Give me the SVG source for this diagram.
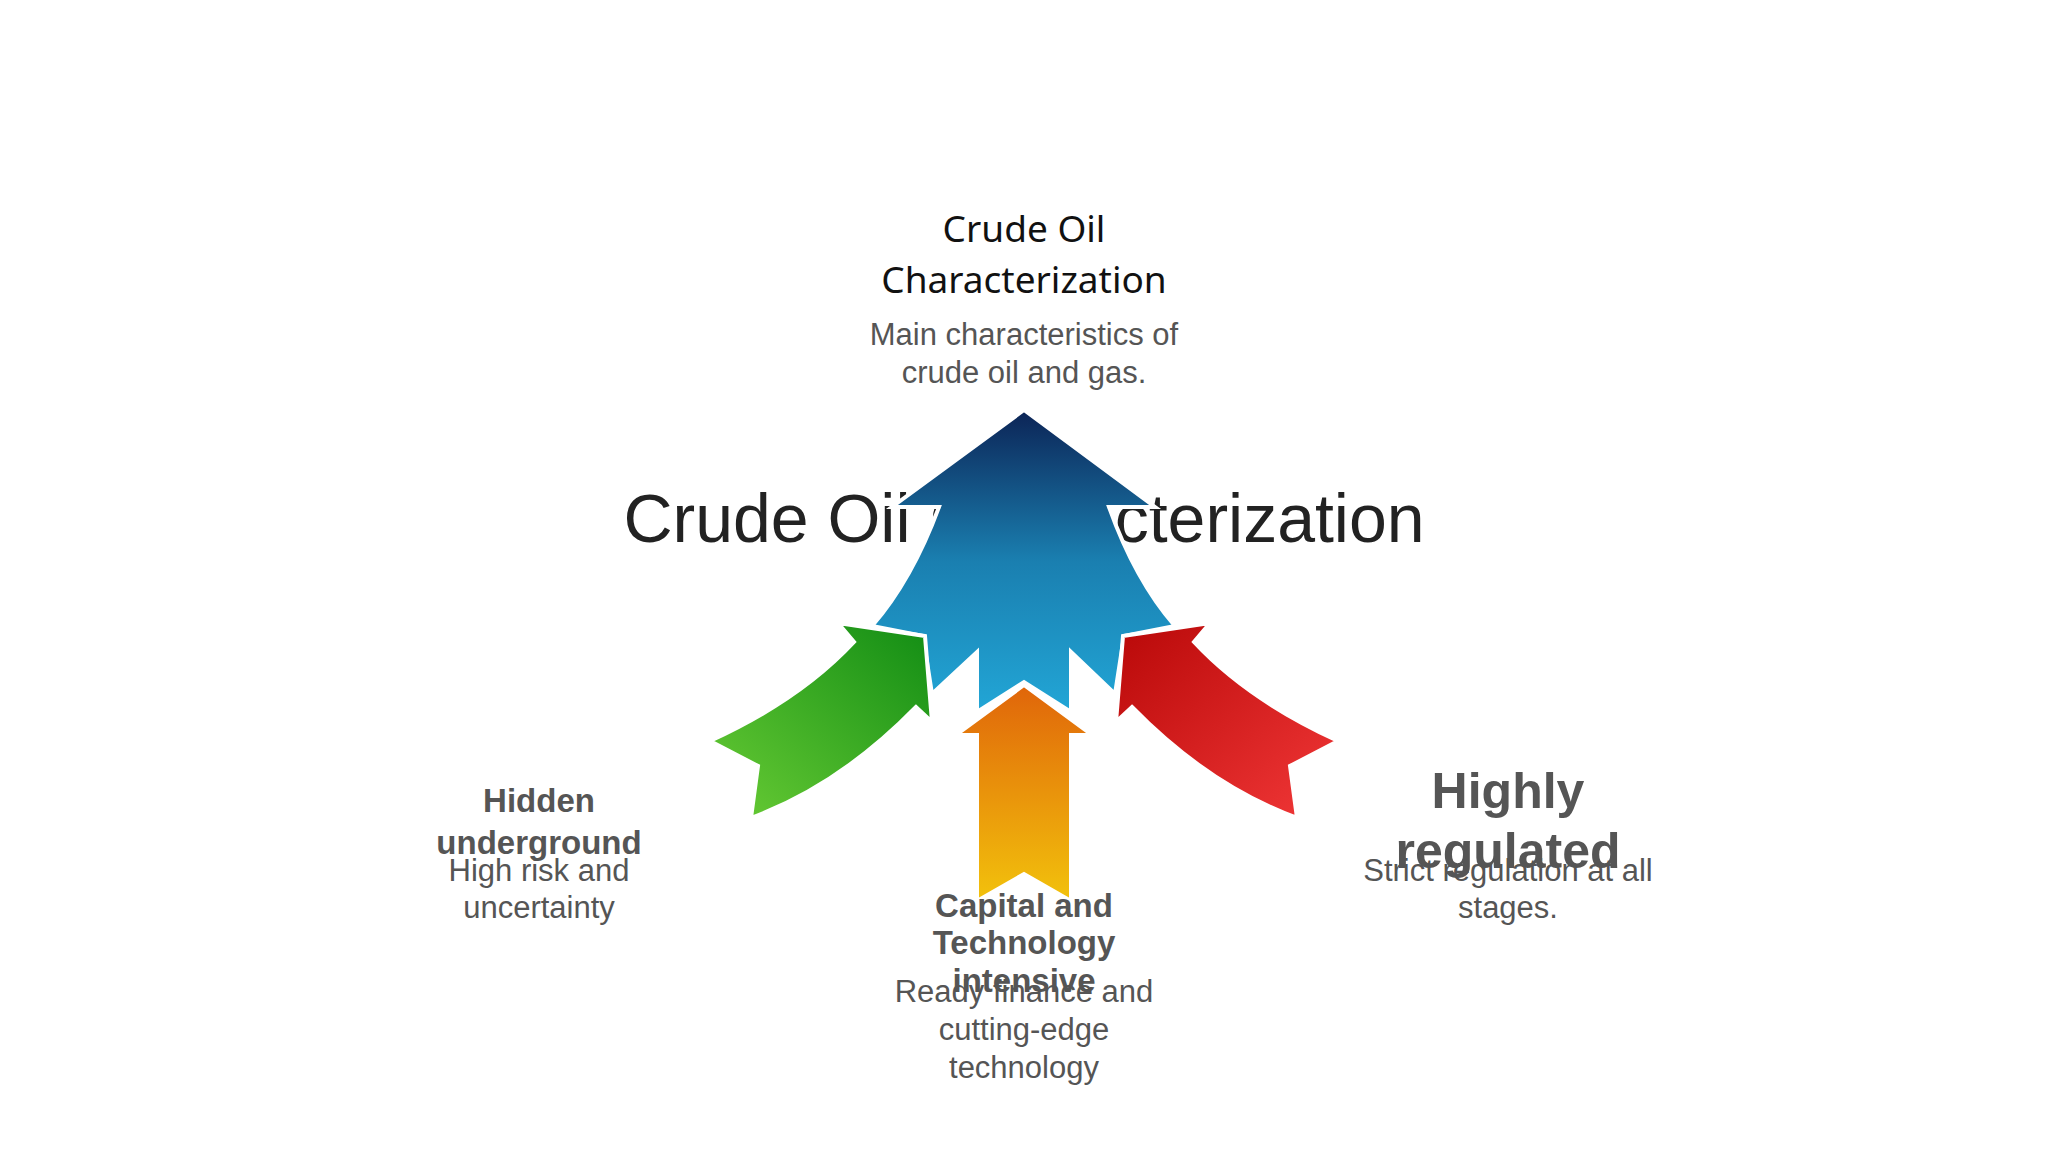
<svg xmlns="http://www.w3.org/2000/svg" width="2048" height="1152" viewBox="0 0 2048 1152">
<defs>
<linearGradient id="gb" x1="0" y1="0" x2="0" y2="1"><stop offset="0" stop-color="#0c2456"/><stop offset="0.5" stop-color="#1a7fb0"/><stop offset="1" stop-color="#22a6d6"/></linearGradient>
<linearGradient id="go" x1="0" y1="0" x2="0" y2="1"><stop offset="0" stop-color="#e0650a"/><stop offset="1" stop-color="#f2c20c"/></linearGradient>
<linearGradient id="gg" x1="0" y1="1" x2="1" y2="0"><stop offset="0" stop-color="#6acd35"/><stop offset="1" stop-color="#118c14"/></linearGradient>
<linearGradient id="gr" x1="1" y1="1" x2="0" y2="0"><stop offset="0" stop-color="#f23838"/><stop offset="1" stop-color="#b80808"/></linearGradient>
</defs>
<style>
.t{font-family:"Noto Sans","Open Sans",sans-serif;font-size:37px;fill:#111;text-anchor:middle}
.d{font-family:"Liberation Sans",Arial,sans-serif;font-size:31px;fill:#555;text-anchor:middle}
.h{font-family:"Liberation Sans",Arial,sans-serif;font-size:33px;font-weight:bold;fill:#555;text-anchor:middle}
.hb{font-size:50px}
.a{stroke:#fff;stroke-width:4;stroke-linejoin:miter}
</style>
<text x="1024" y="542" font-family="Liberation Sans,Arial,sans-serif" font-size="68" fill="#222" text-anchor="middle">Crude Oil Characterization</text>
<g id="top">
<path class="a" fill="url(#gb)" d="M1024,410 L1155,507 L1109,507 Q1135,580 1175,626 L1124,636 L1115,694 L1071,652 L1071,712 L1024,682 L977,712 L977,652 L932,694 L923,636 L872,626 Q912,580 939,507 L892,507 Z"/>
<text class="t" x="1024" y="242">Crude Oil</text>
<text class="t" x="1024" y="293">Characterization</text>
<text class="d" x="1024" y="345">Main characteristics of</text>
<text class="d" x="1024" y="383">crude oil and gas.</text>
</g>
<g id="connectors"></g>
<g id="capital">
<path class="a" fill="url(#go)" d="M1024,685 L1092,735 L1071,735 L1071,901 L1024,874 L977,901 L977,735 L956,735 Z"/>
<text class="h" x="1024" y="917">Capital and</text>
<text class="h" x="1024" y="954">Technology</text>
<text class="h" x="1024" y="992">intensive</text>
<text class="d" x="1024" y="1002">Ready finance and</text>
<text class="d" x="1024" y="1040">cutting-edge</text>
<text class="d" x="1024" y="1078">technology</text>
</g>
<g id="hidden">
<path class="a" fill="url(#gg)" d="M838,623 L925,636 L932,722 L916,707 Q840,785 751,818 L758,766 L710,741 Q800,700 854,642 Z"/>
<text class="h" x="539" y="812">Hidden</text>
<text class="h" x="539" y="854">underground</text>
<text class="d" x="539" y="881">High risk and</text>
<text class="d" x="539" y="918">uncertainty</text>
</g>
<g id="regulated">
<path class="a" fill="url(#gr)" d="M1210,623 L1123,636 L1116,722 L1132,707 Q1208,785 1297,818 L1290,766 L1338,741 Q1248,700 1194,642 Z"/>
<text class="h hb" x="1508" y="808">Highly</text>
<text class="h hb" x="1508" y="868">regulated</text>
<text class="d" x="1508" y="881">Strict regulation at all</text>
<text class="d" x="1508" y="918">stages.</text>
</g>
</svg>
